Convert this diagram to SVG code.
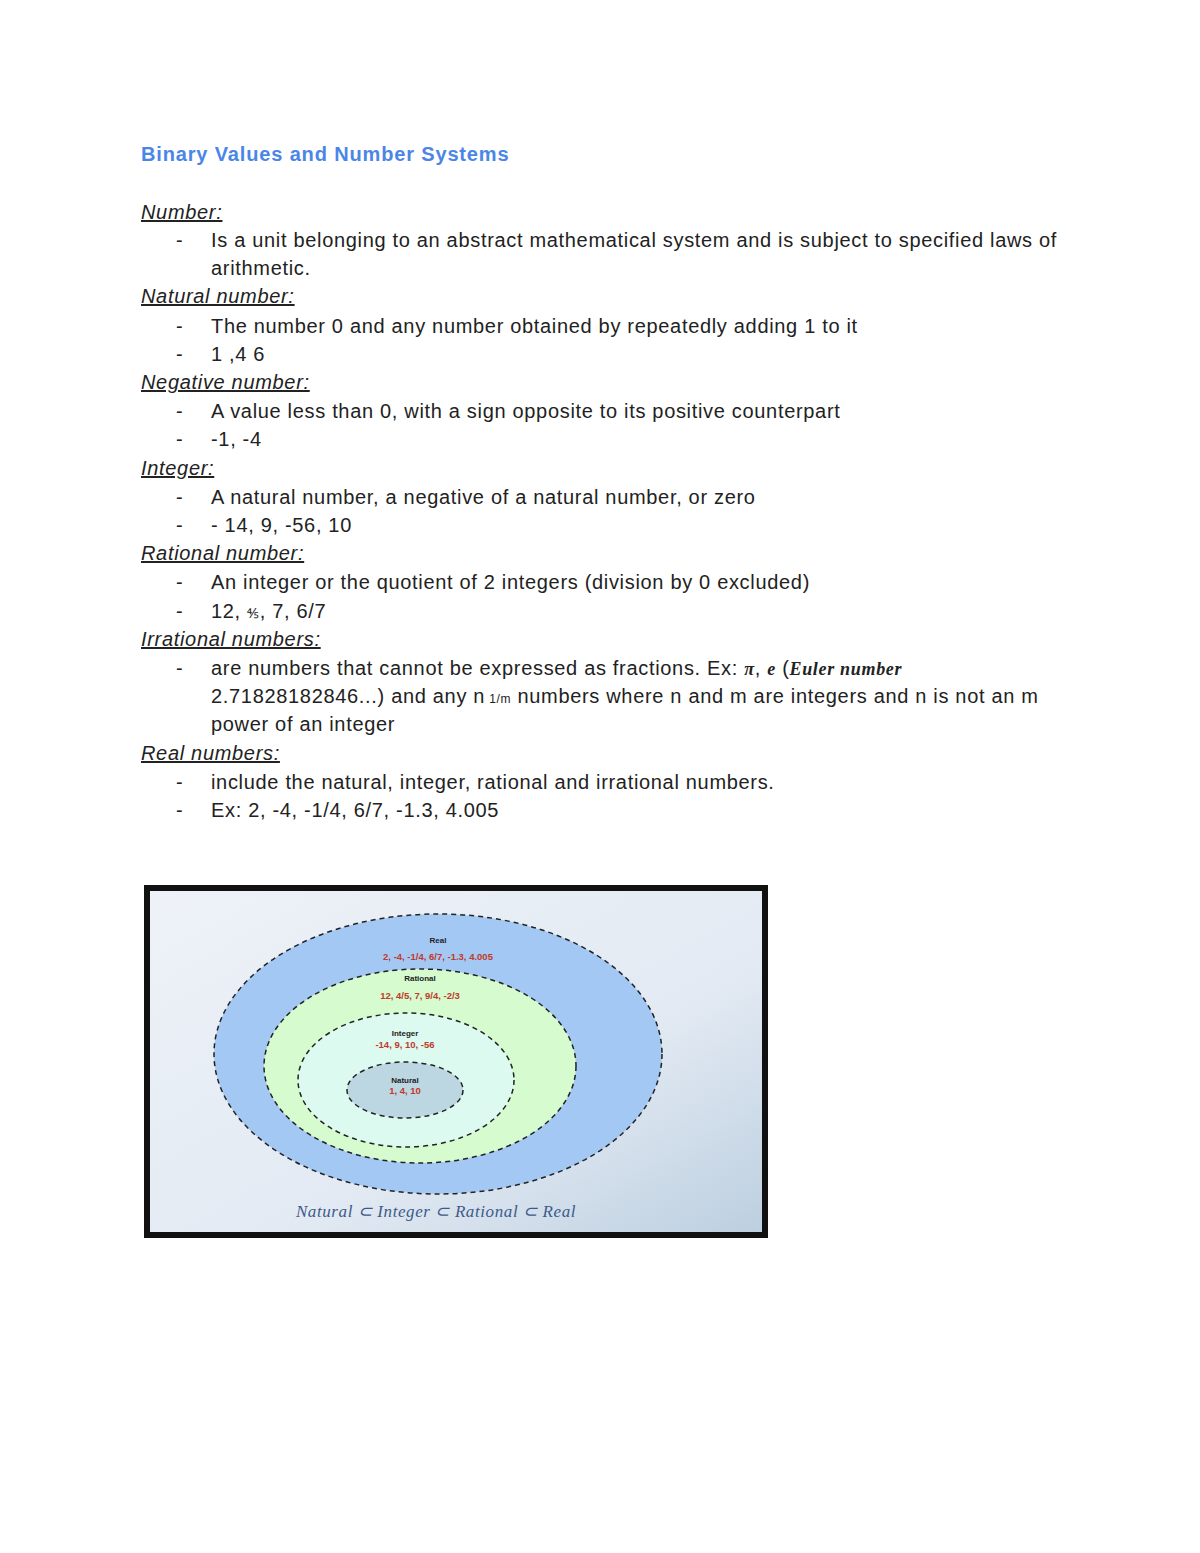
<svg xmlns="http://www.w3.org/2000/svg" width="1200" height="1553" viewBox="0 0 1200 1553">
<style>
.t{font-family:"Liberation Sans",Arial,sans-serif;font-size:20px;fill:#222;letter-spacing:0.68px}
.h{font-style:italic;text-decoration:underline}
.m{font-family:"Liberation Serif",serif;font-style:italic;font-weight:bold;font-size:18px}
.e{stroke:#222;stroke-width:1.5;stroke-dasharray:5 4}
.lb{font-family:"Liberation Sans",Arial,sans-serif;font-size:8px;font-weight:bold;fill:#222;text-anchor:middle}
.lr{font-family:"Liberation Sans",Arial,sans-serif;font-size:9.5px;font-weight:bold;fill:#c0392b;text-anchor:middle}
</style>
<defs><linearGradient id="bg" x1="0" y1="0" x2="1" y2="1"><stop offset="0" stop-color="#eef2f8"/><stop offset="0.6" stop-color="#e3eaf3"/><stop offset="1" stop-color="#bccfe0"/></linearGradient></defs>
<rect width="1200" height="1553" fill="#fff"/>
<text x="141" y="161" style="font-family:'Liberation Sans',Arial,sans-serif;font-size:20px;font-weight:bold;fill:#4a86e8;letter-spacing:0.85px">Binary Values and Number Systems</text>
<g class="t">
<text x="141" y="219" class="h">Number:</text>
<text x="176" y="247">-</text><text x="211" y="247">Is a unit belonging to an abstract mathematical system and is subject to specified laws of</text>
<text x="211" y="275">arithmetic.</text>
<text x="141" y="303" class="h">Natural number:</text>
<text x="176" y="333">-</text><text x="211" y="333">The number 0 and any number obtained by repeatedly adding 1 to it</text>
<text x="176" y="361">-</text><text x="211" y="361">1 ,4 6</text>
<text x="141" y="389" class="h">Negative number:</text>
<text x="176" y="418">-</text><text x="211" y="418">A value less than 0, with a sign opposite to its positive counterpart</text>
<text x="176" y="446">-</text><text x="211" y="446">-1, -4</text>
<text x="141" y="475" class="h">Integer:</text>
<text x="176" y="504">-</text><text x="211" y="504">A natural number, a negative of a natural number, or zero</text>
<text x="176" y="532">-</text><text x="211" y="532">- 14, 9, -56, 10</text>
<text x="141" y="560" class="h">Rational number:</text>
<text x="176" y="589">-</text><text x="211" y="589">An integer or the quotient of 2 integers (division by 0 excluded)</text>
<text x="176" y="618">-</text><text x="211" y="618">12, <tspan font-size="14">⅘</tspan>, 7, 6/7</text>
<text x="141" y="646" class="h">Irrational numbers:</text>
<text x="176" y="675">-</text><text x="211" y="675">are numbers that cannot be expressed as fractions. Ex: <tspan class="m">π</tspan>, <tspan class="m">e</tspan> (<tspan class="m">Euler number</tspan></text>
<text x="211" y="703">2.71828182846...) and any n<tspan font-size="12"> 1/m</tspan> numbers where n and m are integers and n is not an m</text>
<text x="211" y="731">power of an integer</text>
<text x="141" y="760" class="h">Real numbers:</text>
<text x="176" y="789">-</text><text x="211" y="789">include the natural, integer, rational and irrational numbers.</text>
<text x="176" y="817">-</text><text x="211" y="817">Ex: 2, -4, -1/4, 6/7, -1.3, 4.005</text>
</g>
<g id="frame"><rect x="147" y="888" width="618" height="347" fill="url(#bg)" stroke="#111" stroke-width="6"/></g>
<g id="real"><ellipse cx="438" cy="1054" rx="224" ry="140" fill="#a4c8f4" class="e"/><text x="438" y="943" class="lb">Real</text><text x="438" y="960" class="lr">2, -4, -1/4, 6/7, -1.3, 4.005</text></g>
<g id="rational"><ellipse cx="420" cy="1066" rx="156" ry="97" fill="#d6fbcf" class="e"/><text x="420" y="981" class="lb">Rational</text><text x="420" y="999" class="lr">12, 4/5, 7, 9/4, -2/3</text></g>
<g id="integer"><ellipse cx="406" cy="1080" rx="108" ry="67" fill="#dcfaf0" class="e"/><text x="405" y="1036" class="lb">Integer</text><text x="405" y="1048" class="lr">-14, 9, 10, -56</text></g>
<g id="natural"><ellipse cx="405" cy="1090" rx="58" ry="28" fill="#bcd7e2" class="e"/><text x="405" y="1083" class="lb">Natural</text><text x="405" y="1094" class="lr">1, 4, 10</text></g>
<text x="436" y="1217" text-anchor="middle" style="font-family:'Liberation Serif',serif;font-style:italic;font-size:17px;fill:#3c5a8a;letter-spacing:0.6px">Natural  ⊂ Integer  ⊂ Rational  ⊂ Real</text>
<g id="connectors"/>
</svg>
